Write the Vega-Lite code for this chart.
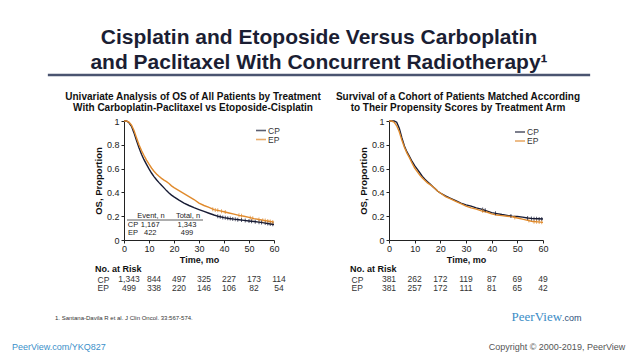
{
  "$schema": "https://vega.github.io/schema/vega-lite/v6.json",
  "padding": 0,
  "background": "white",
  "bounds": "full",
  "spacing": 7,
  "resolve": {"scale": {"color": "independent"}, "legend": {"color": "independent"}},
  "config": {
    "view": {"stroke": null},
    "font": "Liberation Sans",
    "axis": {"grid": false, "domainColor": "#222", "tickColor": "#222", "labelColor": "#222", "titleColor": "#111", "labelFont": "Liberation Sans", "titleFont": "Liberation Sans", "labelOverlap": false, "labelFlush": false, "labelSeparation": 0}
  },
  "datasets": {
    "titles": [
      {"line": 1, "text": "Cisplatin and Etoposide Versus Carboplatin"},
      {"line": 2, "text": "and Paclitaxel With Concurrent Radiotherapy¹"}
    ],
    "footer": [
      {"id": "ref", "text": "1. Santana-Davila R et al. J Clin Oncol. 33:567-574."},
      {"id": "pv", "text": "PeerView"},
      {"id": "com", "text": ".com"},
      {"id": "url", "text": "PeerView.com/YKQ827"},
      {"id": "copy", "text": "Copyright © 2000-2019, PeerView"}
    ],
    "km": [
      {"panel":"L","arm":"CP","t":0,"p":1},{"panel":"L","arm":"CP","t":1,"p":1},{"panel":"L","arm":"CP","t":2,"p":0.985},{"panel":"L","arm":"CP","t":3,"p":0.955},{"panel":"L","arm":"CP","t":4,"p":0.9},{"panel":"L","arm":"CP","t":5,"p":0.835},{"panel":"L","arm":"CP","t":6,"p":0.775},{"panel":"L","arm":"CP","t":7,"p":0.72},{"panel":"L","arm":"CP","t":8,"p":0.675},{"panel":"L","arm":"CP","t":9,"p":0.635},{"panel":"L","arm":"CP","t":10,"p":0.597},{"panel":"L","arm":"CP","t":11,"p":0.563},{"panel":"L","arm":"CP","t":12,"p":0.533},{"panel":"L","arm":"CP","t":13,"p":0.506},{"panel":"L","arm":"CP","t":14,"p":0.482},{"panel":"L","arm":"CP","t":15,"p":0.46},{"panel":"L","arm":"CP","t":16,"p":0.438},{"panel":"L","arm":"CP","t":17,"p":0.415},{"panel":"L","arm":"CP","t":18,"p":0.395},{"panel":"L","arm":"CP","t":19,"p":0.377},{"panel":"L","arm":"CP","t":20,"p":0.362},{"panel":"L","arm":"CP","t":22,"p":0.335},{"panel":"L","arm":"CP","t":24,"p":0.31},{"panel":"L","arm":"CP","t":26,"p":0.29},{"panel":"L","arm":"CP","t":28,"p":0.272},{"panel":"L","arm":"CP","t":30,"p":0.256},{"panel":"L","arm":"CP","t":32,"p":0.24},{"panel":"L","arm":"CP","t":34,"p":0.225},{"panel":"L","arm":"CP","t":36,"p":0.21},{"panel":"L","arm":"CP","t":38,"p":0.197},{"panel":"L","arm":"CP","t":40,"p":0.188},{"panel":"L","arm":"CP","t":42,"p":0.181},{"panel":"L","arm":"CP","t":44,"p":0.175},{"panel":"L","arm":"CP","t":46,"p":0.17},{"panel":"L","arm":"CP","t":48,"p":0.165},{"panel":"L","arm":"CP","t":50,"p":0.16},{"panel":"L","arm":"CP","t":52,"p":0.155},{"panel":"L","arm":"CP","t":54,"p":0.15},{"panel":"L","arm":"CP","t":56,"p":0.144},{"panel":"L","arm":"CP","t":58,"p":0.137},{"panel":"L","arm":"CP","t":60,"p":0.13},
      {"panel":"L","arm":"EP","t":0,"p":1},{"panel":"L","arm":"EP","t":1,"p":1},{"panel":"L","arm":"EP","t":2,"p":0.99},{"panel":"L","arm":"EP","t":3,"p":0.965},{"panel":"L","arm":"EP","t":4,"p":0.92},{"panel":"L","arm":"EP","t":5,"p":0.86},{"panel":"L","arm":"EP","t":6,"p":0.8},{"panel":"L","arm":"EP","t":7,"p":0.752},{"panel":"L","arm":"EP","t":8,"p":0.71},{"panel":"L","arm":"EP","t":9,"p":0.672},{"panel":"L","arm":"EP","t":10,"p":0.637},{"panel":"L","arm":"EP","t":11,"p":0.605},{"panel":"L","arm":"EP","t":12,"p":0.578},{"panel":"L","arm":"EP","t":13,"p":0.555},{"panel":"L","arm":"EP","t":14,"p":0.535},{"panel":"L","arm":"EP","t":15,"p":0.518},{"panel":"L","arm":"EP","t":16,"p":0.503},{"panel":"L","arm":"EP","t":17,"p":0.49},{"panel":"L","arm":"EP","t":18,"p":0.475},{"panel":"L","arm":"EP","t":19,"p":0.455},{"panel":"L","arm":"EP","t":20,"p":0.44},{"panel":"L","arm":"EP","t":22,"p":0.415},{"panel":"L","arm":"EP","t":24,"p":0.39},{"panel":"L","arm":"EP","t":26,"p":0.365},{"panel":"L","arm":"EP","t":28,"p":0.34},{"panel":"L","arm":"EP","t":30,"p":0.31},{"panel":"L","arm":"EP","t":32,"p":0.29},{"panel":"L","arm":"EP","t":34,"p":0.275},{"panel":"L","arm":"EP","t":36,"p":0.255},{"panel":"L","arm":"EP","t":38,"p":0.247},{"panel":"L","arm":"EP","t":40,"p":0.237},{"panel":"L","arm":"EP","t":42,"p":0.227},{"panel":"L","arm":"EP","t":44,"p":0.217},{"panel":"L","arm":"EP","t":46,"p":0.207},{"panel":"L","arm":"EP","t":48,"p":0.2},{"panel":"L","arm":"EP","t":50,"p":0.19},{"panel":"L","arm":"EP","t":52,"p":0.18},{"panel":"L","arm":"EP","t":54,"p":0.172},{"panel":"L","arm":"EP","t":56,"p":0.165},{"panel":"L","arm":"EP","t":58,"p":0.158},{"panel":"L","arm":"EP","t":60,"p":0.15},
      {"panel":"R","arm":"CP","t":0,"p":1},{"panel":"R","arm":"CP","t":1,"p":1},{"panel":"R","arm":"CP","t":2,"p":1},{"panel":"R","arm":"CP","t":3,"p":0.99},{"panel":"R","arm":"CP","t":4,"p":0.94},{"panel":"R","arm":"CP","t":5,"p":0.86},{"panel":"R","arm":"CP","t":6,"p":0.79},{"panel":"R","arm":"CP","t":7,"p":0.74},{"panel":"R","arm":"CP","t":8,"p":0.7},{"panel":"R","arm":"CP","t":9,"p":0.66},{"panel":"R","arm":"CP","t":10,"p":0.625},{"panel":"R","arm":"CP","t":11,"p":0.595},{"panel":"R","arm":"CP","t":12,"p":0.565},{"panel":"R","arm":"CP","t":13,"p":0.535},{"panel":"R","arm":"CP","t":14,"p":0.51},{"panel":"R","arm":"CP","t":15,"p":0.49},{"panel":"R","arm":"CP","t":16,"p":0.47},{"panel":"R","arm":"CP","t":17,"p":0.45},{"panel":"R","arm":"CP","t":18,"p":0.43},{"panel":"R","arm":"CP","t":19,"p":0.41},{"panel":"R","arm":"CP","t":20,"p":0.395},{"panel":"R","arm":"CP","t":22,"p":0.37},{"panel":"R","arm":"CP","t":24,"p":0.35},{"panel":"R","arm":"CP","t":26,"p":0.33},{"panel":"R","arm":"CP","t":28,"p":0.31},{"panel":"R","arm":"CP","t":30,"p":0.295},{"panel":"R","arm":"CP","t":32,"p":0.285},{"panel":"R","arm":"CP","t":34,"p":0.27},{"panel":"R","arm":"CP","t":36,"p":0.26},{"panel":"R","arm":"CP","t":38,"p":0.245},{"panel":"R","arm":"CP","t":40,"p":0.23},{"panel":"R","arm":"CP","t":42,"p":0.222},{"panel":"R","arm":"CP","t":44,"p":0.214},{"panel":"R","arm":"CP","t":46,"p":0.207},{"panel":"R","arm":"CP","t":48,"p":0.2},{"panel":"R","arm":"CP","t":50,"p":0.197},{"panel":"R","arm":"CP","t":52,"p":0.192},{"panel":"R","arm":"CP","t":54,"p":0.185},{"panel":"R","arm":"CP","t":56,"p":0.18},{"panel":"R","arm":"CP","t":58,"p":0.178},{"panel":"R","arm":"CP","t":60,"p":0.176},
      {"panel":"R","arm":"EP","t":0,"p":1},{"panel":"R","arm":"EP","t":1,"p":1},{"panel":"R","arm":"EP","t":2,"p":0.99},{"panel":"R","arm":"EP","t":3,"p":0.96},{"panel":"R","arm":"EP","t":4,"p":0.91},{"panel":"R","arm":"EP","t":5,"p":0.84},{"panel":"R","arm":"EP","t":6,"p":0.78},{"panel":"R","arm":"EP","t":7,"p":0.73},{"panel":"R","arm":"EP","t":8,"p":0.69},{"panel":"R","arm":"EP","t":9,"p":0.645},{"panel":"R","arm":"EP","t":10,"p":0.605},{"panel":"R","arm":"EP","t":11,"p":0.575},{"panel":"R","arm":"EP","t":12,"p":0.545},{"panel":"R","arm":"EP","t":13,"p":0.52},{"panel":"R","arm":"EP","t":14,"p":0.5},{"panel":"R","arm":"EP","t":15,"p":0.48},{"panel":"R","arm":"EP","t":16,"p":0.465},{"panel":"R","arm":"EP","t":17,"p":0.45},{"panel":"R","arm":"EP","t":18,"p":0.43},{"panel":"R","arm":"EP","t":19,"p":0.41},{"panel":"R","arm":"EP","t":20,"p":0.395},{"panel":"R","arm":"EP","t":22,"p":0.365},{"panel":"R","arm":"EP","t":24,"p":0.345},{"panel":"R","arm":"EP","t":26,"p":0.325},{"panel":"R","arm":"EP","t":28,"p":0.305},{"panel":"R","arm":"EP","t":30,"p":0.285},{"panel":"R","arm":"EP","t":32,"p":0.27},{"panel":"R","arm":"EP","t":34,"p":0.26},{"panel":"R","arm":"EP","t":36,"p":0.245},{"panel":"R","arm":"EP","t":38,"p":0.235},{"panel":"R","arm":"EP","t":40,"p":0.22},{"panel":"R","arm":"EP","t":42,"p":0.21},{"panel":"R","arm":"EP","t":44,"p":0.205},{"panel":"R","arm":"EP","t":46,"p":0.2},{"panel":"R","arm":"EP","t":48,"p":0.195},{"panel":"R","arm":"EP","t":50,"p":0.185},{"panel":"R","arm":"EP","t":52,"p":0.175},{"panel":"R","arm":"EP","t":54,"p":0.165},{"panel":"R","arm":"EP","t":56,"p":0.155},{"panel":"R","arm":"EP","t":58,"p":0.152},{"panel":"R","arm":"EP","t":60,"p":0.148}
    ],
    "censor": [
      {"panel":"L","arm":"CP","t":37.5,"p":0.2},{"panel":"L","arm":"CP","t":38.5,"p":0.195},{"panel":"L","arm":"CP","t":39.5,"p":0.19},{"panel":"L","arm":"CP","t":40.5,"p":0.186},{"panel":"L","arm":"CP","t":41.5,"p":0.183},{"panel":"L","arm":"CP","t":42.5,"p":0.18},{"panel":"L","arm":"CP","t":43.5,"p":0.177},{"panel":"L","arm":"CP","t":44.5,"p":0.174},{"panel":"L","arm":"CP","t":45.5,"p":0.171},{"panel":"L","arm":"CP","t":47,"p":0.168},{"panel":"L","arm":"CP","t":48.5,"p":0.164},{"panel":"L","arm":"CP","t":50,"p":0.16},{"panel":"L","arm":"CP","t":51,"p":0.158},{"panel":"L","arm":"CP","t":52.5,"p":0.154},{"panel":"L","arm":"CP","t":54,"p":0.15},{"panel":"L","arm":"CP","t":55,"p":0.147},{"panel":"L","arm":"CP","t":56.5,"p":0.142},{"panel":"L","arm":"CP","t":57.5,"p":0.139},{"panel":"L","arm":"CP","t":58.5,"p":0.135},{"panel":"L","arm":"CP","t":59.5,"p":0.132},
      {"panel":"L","arm":"EP","t":35.5,"p":0.258},{"panel":"L","arm":"EP","t":36.5,"p":0.252},{"panel":"L","arm":"EP","t":37.5,"p":0.249},{"panel":"L","arm":"EP","t":39,"p":0.242},{"panel":"L","arm":"EP","t":40.5,"p":0.235},{"panel":"L","arm":"EP","t":46,"p":0.207},{"panel":"L","arm":"EP","t":47,"p":0.204},{"panel":"L","arm":"EP","t":50.5,"p":0.188},{"panel":"L","arm":"EP","t":51.5,"p":0.183},{"panel":"L","arm":"EP","t":54,"p":0.172},{"panel":"L","arm":"EP","t":55.5,"p":0.167},{"panel":"L","arm":"EP","t":56.5,"p":0.163},{"panel":"L","arm":"EP","t":57.5,"p":0.16},{"panel":"L","arm":"EP","t":58.5,"p":0.156},{"panel":"L","arm":"EP","t":59.5,"p":0.152},
      {"panel":"R","arm":"CP","t":36.5,"p":0.256},{"panel":"R","arm":"CP","t":37.5,"p":0.249},{"panel":"R","arm":"CP","t":41.5,"p":0.224},{"panel":"R","arm":"CP","t":47.5,"p":0.202},{"panel":"R","arm":"CP","t":54,"p":0.185},{"panel":"R","arm":"CP","t":55.5,"p":0.181},{"panel":"R","arm":"CP","t":56.5,"p":0.179},{"panel":"R","arm":"CP","t":57.5,"p":0.178},{"panel":"R","arm":"CP","t":58.5,"p":0.177},{"panel":"R","arm":"CP","t":59.5,"p":0.176},
      {"panel":"R","arm":"EP","t":36.5,"p":0.243},{"panel":"R","arm":"EP","t":49,"p":0.19},{"panel":"R","arm":"EP","t":54.5,"p":0.163},{"panel":"R","arm":"EP","t":56.5,"p":0.154},{"panel":"R","arm":"EP","t":57.5,"p":0.153},{"panel":"R","arm":"EP","t":58.5,"p":0.151},{"panel":"R","arm":"EP","t":59.5,"p":0.149}
    ],
    "inset": [
      {"row":"head","col":"event","text":"Event, n"},{"row":"head","col":"total","text":"Total, n"},
      {"row":"CP","col":"arm","text":"CP"},{"row":"CP","col":"event","text":"1,167"},{"row":"CP","col":"total","text":"1,343"},
      {"row":"EP","col":"arm","text":"EP"},{"row":"EP","col":"event","text":"422"},{"row":"EP","col":"total","text":"499"}
    ],
    "risk": [
      {"panel":"L","arm":"CP","t":0,"n":1343},{"panel":"L","arm":"CP","t":10,"n":844},{"panel":"L","arm":"CP","t":20,"n":497},{"panel":"L","arm":"CP","t":30,"n":325},{"panel":"L","arm":"CP","t":40,"n":227},{"panel":"L","arm":"CP","t":50,"n":173},{"panel":"L","arm":"CP","t":60,"n":114},
      {"panel":"L","arm":"EP","t":0,"n":499},{"panel":"L","arm":"EP","t":10,"n":338},{"panel":"L","arm":"EP","t":20,"n":220},{"panel":"L","arm":"EP","t":30,"n":146},{"panel":"L","arm":"EP","t":40,"n":106},{"panel":"L","arm":"EP","t":50,"n":82},{"panel":"L","arm":"EP","t":60,"n":54},
      {"panel":"R","arm":"CP","t":0,"n":381},{"panel":"R","arm":"CP","t":10,"n":262},{"panel":"R","arm":"CP","t":20,"n":172},{"panel":"R","arm":"CP","t":30,"n":119},{"panel":"R","arm":"CP","t":40,"n":87},{"panel":"R","arm":"CP","t":50,"n":69},{"panel":"R","arm":"CP","t":60,"n":49},
      {"panel":"R","arm":"EP","t":0,"n":381},{"panel":"R","arm":"EP","t":10,"n":257},{"panel":"R","arm":"EP","t":20,"n":172},{"panel":"R","arm":"EP","t":30,"n":111},{"panel":"R","arm":"EP","t":40,"n":81},{"panel":"R","arm":"EP","t":50,"n":65},{"panel":"R","arm":"EP","t":60,"n":42}
    ]
  },
  "vconcat": [
    {
      "width": 638, "height": 84,
      "layer": [
        {"data": {"name": "titles"}, "transform": [{"filter": "datum.line == 1"}],
         "mark": {"type": "text", "fontSize": 21, "fontWeight": "bold", "color": "#1b1e33", "align": "center", "baseline": "alphabetic"},
         "encoding": {"x": {"datum": 0.5, "type": "quantitative", "scale": {"domain": [0, 1]}, "axis": null},
                      "y": {"datum": 0.476, "type": "quantitative", "scale": {"domain": [0, 1]}, "axis": null},
                      "text": {"field": "text"}}},
        {"data": {"name": "titles"}, "transform": [{"filter": "datum.line == 2"}],
         "mark": {"type": "text", "fontSize": 21, "fontWeight": "bold", "color": "#1b1e33", "align": "center", "baseline": "alphabetic"},
         "encoding": {"x": {"datum": 0.5, "type": "quantitative"}, "y": {"datum": 0.179, "type": "quantitative"}, "text": {"field": "text"}}},
        {"data": {"values": [{}]},
         "mark": {"type": "rule", "color": "#4a5470", "strokeWidth": 2.5},
         "encoding": {"x": {"datum": 0.075, "type": "quantitative"}, "x2": {"datum": 0.925}, "y": {"datum": 0.107, "type": "quantitative"}}}
      ]
    },
    {
      "columns": 3,
      "spacing": {"row": 35, "column": 115},
      "bounds": "flush",
      "align": "each",
      "resolve": {"scale": {"color": "independent"}, "legend": {"color": "independent"}},
      "concat": [
        {"width": 9, "height": 119, "data": {"values": [{}]}, "mark": {"type": "point", "opacity": 0}},
        {
          "width": 150, "height": 119,
          "title": {"text": ["Univariate Analysis of OS of All Patients by Treatment", "With Carboplatin-Paclitaxel vs Etoposide-Cisplatin"], "fontSize": 10, "fontWeight": "bold", "lineHeight": 11.5, "dx": -6, "offset": 4, "frame": "group", "color": "#111"},
          "resolve": {"axis": {"x": "independent", "y": "independent"}},
          "layer": [
            {"data": {"name": "km"}, "transform": [{"filter": "datum.panel == 'L'"}],
             "mark": {"type": "line", "strokeWidth": 1.4},
             "encoding": {
               "x": {"field": "t", "type": "quantitative", "scale": {"domain": [0, 60], "nice": false}, "axis": {"values": [0,10,20,30,40,50,60], "title": "Time, mo", "titleFontSize": 9, "titleFontWeight": "bold", "labelFontSize": 9, "tickSize": 3, "labelPadding": 1, "titlePadding": 2, "labelFlush": false, "labelOverlap": false}},
               "y": {"field": "p", "type": "quantitative", "scale": {"domain": [0, 1], "nice": false}, "axis": {"values": [0,0.2,0.4,0.6,0.8,1], "format": ".1~f", "title": "OS, Proportion", "titleFontSize": 9.5, "titleFontWeight": "bold", "labelFontSize": 9, "tickSize": 3, "labelPadding": 2, "titlePadding": 3, "labelFlush": false, "labelOverlap": false}},
               "color": {"field": "arm", "type": "nominal", "scale": {"domain": ["CP", "EP"], "range": ["#171b34", "#e08a2c"]},
                         "legend": {"orient": "none", "legendX": 131, "legendY": 5, "title": null, "symbolType": "stroke", "symbolSize": 100, "symbolStrokeWidth": 1.6, "labelFontSize": 8.5, "labelColor": "#333", "rowPadding": 0, "clipHeight": 9, "labelOffset": 1, "padding": 0}}
             }},
            {"data": {"name": "censor"}, "transform": [{"filter": "datum.panel == 'L'"}],
             "mark": {"type": "tick", "orient": "vertical", "size": 4, "thickness": 1},
             "encoding": {"x": {"field": "t", "type": "quantitative", "axis": null}, "y": {"field": "p", "type": "quantitative", "axis": null}, "color": {"field": "arm", "type": "nominal"}}},
            {"data": {"values": [{}]},
             "mark": {"type": "rule", "color": "#333", "strokeWidth": 0.8},
             "encoding": {"x": {"datum": 1.2, "type": "quantitative", "axis": null}, "x2": {"datum": 31.6}, "y": {"datum": 0.168, "type": "quantitative", "axis": null}}},
            {"data": {"name": "inset"}, "transform": [{"filter": "datum.row == 'head' && datum.col == 'event'"}],
             "mark": {"type": "text", "fontSize": 7.5, "color": "#222", "baseline": "middle"},
             "encoding": {"x": {"datum": 10.8, "type": "quantitative", "axis": null}, "y": {"datum": 0.2, "type": "quantitative", "axis": null}, "text": {"field": "text"}}},
            {"data": {"name": "inset"}, "transform": [{"filter": "datum.row == 'head' && datum.col == 'total'"}],
             "mark": {"type": "text", "fontSize": 7.5, "color": "#222", "baseline": "middle"},
             "encoding": {"x": {"datum": 25.6, "type": "quantitative", "axis": null}, "y": {"datum": 0.2, "type": "quantitative", "axis": null}, "text": {"field": "text"}}},
            {"data": {"name": "inset"}, "transform": [{"filter": "datum.row == 'CP' && datum.col == 'arm'"}],
             "mark": {"type": "text", "fontSize": 7.5, "color": "#222", "baseline": "middle"},
             "encoding": {"x": {"datum": 3.6, "type": "quantitative", "axis": null}, "y": {"datum": 0.126, "type": "quantitative", "axis": null}, "text": {"field": "text"}}},
            {"data": {"name": "inset"}, "transform": [{"filter": "datum.row == 'CP' && datum.col == 'event'"}],
             "mark": {"type": "text", "fontSize": 7.5, "color": "#222", "baseline": "middle"},
             "encoding": {"x": {"datum": 10.5, "type": "quantitative", "axis": null}, "y": {"datum": 0.126, "type": "quantitative", "axis": null}, "text": {"field": "text"}}},
            {"data": {"name": "inset"}, "transform": [{"filter": "datum.row == 'CP' && datum.col == 'total'"}],
             "mark": {"type": "text", "fontSize": 7.5, "color": "#222", "baseline": "middle"},
             "encoding": {"x": {"datum": 25.2, "type": "quantitative", "axis": null}, "y": {"datum": 0.126, "type": "quantitative", "axis": null}, "text": {"field": "text"}}},
            {"data": {"name": "inset"}, "transform": [{"filter": "datum.row == 'EP' && datum.col == 'arm'"}],
             "mark": {"type": "text", "fontSize": 7.5, "color": "#222", "baseline": "middle"},
             "encoding": {"x": {"datum": 3.6, "type": "quantitative", "axis": null}, "y": {"datum": 0.059, "type": "quantitative", "axis": null}, "text": {"field": "text"}}},
            {"data": {"name": "inset"}, "transform": [{"filter": "datum.row == 'EP' && datum.col == 'event'"}],
             "mark": {"type": "text", "fontSize": 7.5, "color": "#222", "baseline": "middle"},
             "encoding": {"x": {"datum": 10.5, "type": "quantitative", "axis": null}, "y": {"datum": 0.059, "type": "quantitative", "axis": null}, "text": {"field": "text"}}},
            {"data": {"name": "inset"}, "transform": [{"filter": "datum.row == 'EP' && datum.col == 'total'"}],
             "mark": {"type": "text", "fontSize": 7.5, "color": "#222", "baseline": "middle"},
             "encoding": {"x": {"datum": 25.2, "type": "quantitative", "axis": null}, "y": {"datum": 0.059, "type": "quantitative", "axis": null}, "text": {"field": "text"}}}
          ]
        },
        {
          "width": 154, "height": 119,
          "title": {"text": ["Survival of a Cohort of Patients Matched According", "to Their Propensity Scores by Treatment Arm"], "fontSize": 10, "fontWeight": "bold", "lineHeight": 11.5, "dx": -8, "offset": 4, "frame": "group", "color": "#111"},
          "layer": [
            {"data": {"name": "km"}, "transform": [{"filter": "datum.panel == 'R'"}],
             "mark": {"type": "line", "strokeWidth": 1.4},
             "encoding": {
               "x": {"field": "t", "type": "quantitative", "scale": {"domain": [0, 60], "nice": false}, "axis": {"values": [0,10,20,30,40,50,60], "title": "Time, mo", "titleFontSize": 9, "titleFontWeight": "bold", "labelFontSize": 9, "tickSize": 3, "labelPadding": 1, "titlePadding": 2, "labelFlush": false, "labelOverlap": false}},
               "y": {"field": "p", "type": "quantitative", "scale": {"domain": [0, 1], "nice": false}, "axis": {"values": [0,0.2,0.4,0.6,0.8,1], "format": ".1~f", "title": "OS, Proportion", "titleFontSize": 9.5, "titleFontWeight": "bold", "labelFontSize": 9, "tickSize": 3, "labelPadding": 2, "titlePadding": 3, "labelFlush": false, "labelOverlap": false}},
               "color": {"field": "arm", "type": "nominal", "scale": {"domain": ["CP", "EP"], "range": ["#171b34", "#e08a2c"]},
                         "legend": {"orient": "none", "legendX": 125, "legendY": 7, "title": null, "symbolType": "stroke", "symbolSize": 100, "symbolStrokeWidth": 1.6, "labelFontSize": 8.5, "labelColor": "#333", "rowPadding": 0, "clipHeight": 8, "labelOffset": 1, "padding": 0}}
             }},
            {"data": {"name": "censor"}, "transform": [{"filter": "datum.panel == 'R'"}],
             "mark": {"type": "tick", "orient": "vertical", "size": 4, "thickness": 1},
             "encoding": {"x": {"field": "t", "type": "quantitative", "axis": {"values": [0,10,20,30,40,50,60], "labelOverlap": false}}, "y": {"field": "p", "type": "quantitative", "axis": {"values": [0,0.2,0.4,0.6,0.8,1], "labelOverlap": false}}, "color": {"field": "arm", "type": "nominal"}}}
          ]
        },
        {"width": 9, "height": 17, "data": {"values": [{}]}, "mark": {"type": "point", "opacity": 0}},
        {
          "width": 150, "height": 17,
          "data": {"name": "risk"}, "transform": [{"filter": "datum.panel == 'L'"}],
          "title": {"text": "No. at Risk", "anchor": "start", "dx": -29, "fontSize": 9, "fontWeight": "bold", "offset": 1, "frame": "group", "color": "#111"},
          "mark": {"type": "text", "fontSize": 8.5, "color": "#333", "dx": 5},
          "encoding": {
            "x": {"field": "t", "type": "quantitative", "scale": {"domain": [0, 60], "nice": false}, "axis": null},
            "y": {"field": "arm", "type": "nominal", "scale": {"domain": ["CP", "EP"]}, "axis": {"title": null, "domain": false, "ticks": false, "tickSize": 0, "labelPadding": 27, "labelAlign": "left", "labelFontSize": 8.5, "labelColor": "#333"}},
            "text": {"field": "n", "type": "quantitative", "format": ","}
          }
        },
        {
          "width": 154, "height": 17,
          "data": {"name": "risk"}, "transform": [{"filter": "datum.panel == 'R'"}],
          "title": {"text": "No. at Risk", "anchor": "start", "dx": -39, "fontSize": 9, "fontWeight": "bold", "offset": 1, "frame": "group", "color": "#111"},
          "mark": {"type": "text", "fontSize": 8.5, "color": "#333"},
          "encoding": {
            "x": {"field": "t", "type": "quantitative", "scale": {"domain": [0, 60], "nice": false}, "axis": null},
            "y": {"field": "arm", "type": "nominal", "scale": {"domain": ["CP", "EP"]}, "axis": {"title": null, "domain": false, "ticks": false, "tickSize": 0, "labelPadding": 38, "labelAlign": "left", "labelFontSize": 8.5, "labelColor": "#333"}},
            "text": {"field": "n", "type": "quantitative", "format": ","}
          }
        }
      ]
    },
    {
      "width": 638, "height": 59,
      "data": {"name": "footer"},
      "layer": [
        {"transform": [{"filter": "datum.id == 'ref'"}],
         "mark": {"type": "text", "fontSize": 6, "color": "#333", "align": "left", "baseline": "middle"},
         "encoding": {"x": {"datum": 0.0862, "type": "quantitative", "scale": {"domain": [0, 1]}, "axis": null}, "y": {"datum": 0.695, "type": "quantitative", "scale": {"domain": [0, 1]}, "axis": null}, "text": {"field": "text"}}},
        {"transform": [{"filter": "datum.id == 'pv'"}],
         "mark": {"type": "text", "fontSize": 13, "font": "Liberation Serif", "color": "#3a8cc6", "align": "right", "baseline": "alphabetic"},
         "encoding": {"x": {"datum": 0.881, "type": "quantitative"}, "y": {"datum": 0.644, "type": "quantitative"}, "text": {"field": "text"}}},
        {"transform": [{"filter": "datum.id == 'com'"}],
         "mark": {"type": "text", "fontSize": 9, "color": "#2d4f7a", "align": "left", "baseline": "alphabetic"},
         "encoding": {"x": {"datum": 0.881, "type": "quantitative"}, "y": {"datum": 0.644, "type": "quantitative"}, "text": {"field": "text"}}},
        {"transform": [{"filter": "datum.id == 'url'"}],
         "mark": {"type": "text", "fontSize": 9, "color": "#3b8fc9", "align": "left", "baseline": "middle"},
         "encoding": {"x": {"datum": 0.0188, "type": "quantitative"}, "y": {"datum": 0.203, "type": "quantitative"}, "text": {"field": "text"}}},
        {"transform": [{"filter": "datum.id == 'copy'"}],
         "mark": {"type": "text", "fontSize": 9, "color": "#555", "align": "right", "baseline": "middle"},
         "encoding": {"x": {"datum": 0.98, "type": "quantitative"}, "y": {"datum": 0.203, "type": "quantitative"}, "text": {"field": "text"}}}
      ]
    }
  ]
}
